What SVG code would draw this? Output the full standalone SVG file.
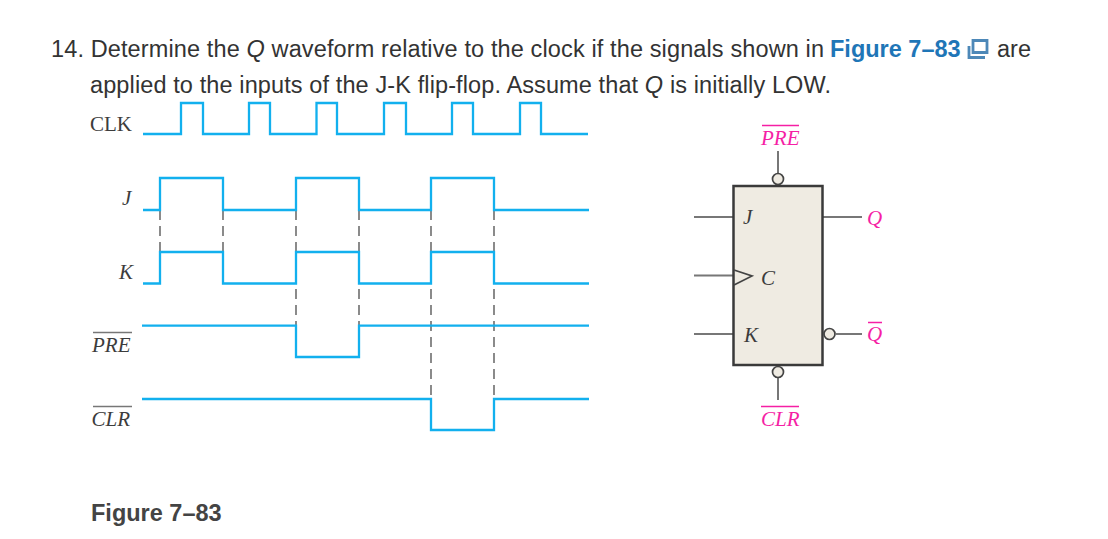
<svg xmlns="http://www.w3.org/2000/svg" width="1108" height="539" viewBox="0 0 1108 539">
<style>
.p{font-family:"Liberation Sans",Arial,sans-serif;font-size:23.5px;fill:#333}
.w{fill:none;stroke:#12b0ee;stroke-width:2.3;stroke-linejoin:miter}
.d{fill:none;stroke:#777;stroke-width:1.7;stroke-dasharray:10 6}
.g{fill:none;stroke:#777;stroke-width:2}
.b{fill:#efebe2;stroke:#444;stroke-width:1.7}
.s{font-family:"Liberation Serif","Times New Roman",serif;font-size:21px;fill:#3c3c3c}
.m{font-family:"Liberation Serif","Times New Roman",serif;font-size:21px;font-style:italic;fill:#f51fa5}
.i{font-style:italic}
</style>
<rect width="1108" height="539" fill="#fff"/>
<g id="question">
<text class="p" x="51" y="57" textLength="773">14. Determine the <tspan font-style="italic">Q</tspan> waveform relative to the clock if the signals shown in</text>
<text class="p" x="830" y="57" font-weight="700" style="fill:#1f76b7">Figure 7–83</text>
<path d="M973 40.500h14v12h-14zM969 46v11.500h16" fill="none" stroke="#4d88b8" stroke-width="2.800"/>
<text class="p" x="997" y="57">are</text>
<text class="p" x="90" y="93" textLength="741">applied to the inputs of the J-K flip-flop. Assume that <tspan font-style="italic">Q</tspan> is initially LOW.</text>
<text class="p" x="91" y="521" font-weight="700" style="fill:#444">Figure 7–83</text>
</g>
<g id="guides">
<path class="d" d="M160 210V252M223 210V252M296 210V252M359 210V252M431 210V252M494 210V252M296 289V325M359 289V325M431 289V399M494 289V399"/>
</g>
<g id="waveforms">
<path id="wave-clk" class="w" d="M143 134H181V103H203V134H249V103H270V134H316.500V103H337V134H384V103H406V134H452V103H473V134H520V103H541V134H588"/>
<path id="wave-j" class="w" d="M143 210H160V178H223V210H296V178H359V210H431V178H494V210H589"/>
<path id="wave-k" class="w" d="M143 283.500H160V252H223V283.500H296V252H359V283.500H431V252H494V283.500H589"/>
<path id="wave-pre" class="w" d="M142 325.700H296V357H359V325.700H589"/>
<path id="wave-clr" class="w" d="M142 399H431V430H494V399H589"/>
</g>
<g id="wave-labels">
<text class="s" x="90" y="131">CLK</text>
<text class="s i" x="122" y="205">J</text>
<text class="s i" x="119" y="279">K</text>
<path class="g" d="M93 332.500H132M93 406.500H132" style="stroke-width:1.500"/>
<text class="s i" x="92" y="352">PRE</text>
<text class="s i" x="91.500" y="426">CLR</text>
</g>
<g id="connectors">
<path class="g" d="M778 151V173M694 217H733M823 217H862M694 275.500H733M694 334H733M836 334H862M778 378V400"/>
</g>
<g id="flipflop">
<rect x="733.500" y="186" width="89" height="179" fill="#efebe2" stroke="#3a3a3a" stroke-width="2.500"/>
<path d="M734 270L752 276L734 285" fill="none" stroke="#444" stroke-width="1.700"/>
<text class="s i" x="743" y="224">J</text>
<text class="s i" x="761" y="285">C</text>
<text class="s i" x="744" y="342">K</text>
</g>
<g id="bubbles">
<circle class="b" cx="778" cy="179" r="5.500"/>
<circle class="b" cx="829.500" cy="334" r="5.500"/>
<circle class="b" cx="778" cy="372" r="5.500"/>
</g>
<g id="pin-labels">
<path d="M762 125.500H799M761 406.500H799M868 322.500H882" fill="none" stroke="#f51fa5" stroke-width="1.500"/>
<text class="m" x="761" y="145">PRE</text>
<text class="m" x="761" y="426">CLR</text>
<text class="m" x="867" y="225">Q</text>
<text class="m" x="867" y="341">Q</text>
</g>
</svg>
